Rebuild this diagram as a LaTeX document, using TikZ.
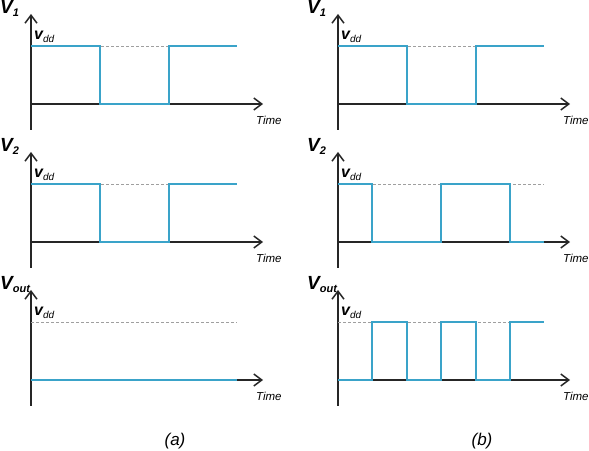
\documentclass[tikz,border=0pt]{standalone}
\usepackage{fontspec}
\setmainfont{Liberation Sans}
\usepackage{xcolor}
\usetikzlibrary{arrows.meta}
\definecolor{wavecol}{RGB}{58,163,201}
\newcommand{\sigv}[2]{{\fontsize{19}{19}\selectfont\bfseries\itshape #1}\raisebox{-3pt}{\fontsize{11}{11}\selectfont\bfseries\itshape #2}}
\newcommand{\vddlab}{{\fontsize{16}{16}\selectfont\bfseries\itshape v}\raisebox{-3pt}{\fontsize{10}{10}\selectfont\itshape dd}}

\begin{document}
\begin{tikzpicture}[
    x=1pt, y=1pt,
    >={Straight Barb[length=8pt,width=12pt,line width=1.5pt]},
    panel/.style={x=34.4pt, y=58pt},
    axis/.style={->, line width=1.8pt, black!85},
    level/.style={gray!75, line width=0.9pt, dash pattern=on 3pt off 2pt},
    wave/.style={wavecol, line width=2pt, line join=miter},
    ylab/.style={anchor=base west, inner sep=0pt},
    tlab/.style={anchor=base west, inner sep=0pt, font=\fontsize{11.5}{11.5}\selectfont\itshape},
    captext/.style={font=\fontsize{17}{17}\selectfont\itshape}
]
\useasboundingbox (0,0) rectangle (589,450);

% --- axes, Vdd level and labels of the six plots ---
\foreach \col/\xo in {a/31, b/338}{
  \foreach \row/\yo/\sub in {1/346/1, 2/208/2, 3/70/out}{
    \begin{scope}[shift={(\xo,\yo)}, panel]
      \coordinate (o\col\row) at (0,0);
      \draw[axis] (0,-0.448) -- (0,1.552);
      \draw[axis] (0,0) -- (6.745,0);
      \draw[level] (0,1) -- (6,1);
      \node[ylab] (v\col\row) at (-0.9,1.552) {\sigv{V}{\sub}};
      \node[ylab] (vdd\col\row) at (0.087,1.112) {\vddlab};
      \node[tlab] (t\col\row) at (6.54,-0.345) {Time};
    \end{scope}
  }
}

% --- waveforms (a) ---
\begin{scope}[shift={(oa1)}, panel]
  \draw[wave] (0,1) -- (2,1) -- (2,0) -- (4,0) -- (4,1) -- (6,1);
\end{scope}
\begin{scope}[shift={(oa2)}, panel]
  \draw[wave] (0,1) -- (2,1) -- (2,0) -- (4,0) -- (4,1) -- (6,1);
\end{scope}
\begin{scope}[shift={(oa3)}, panel]
  \draw[wave] (0,0) -- (6,0);
\end{scope}

% --- waveforms (b) ---
\begin{scope}[shift={(ob1)}, panel]
  \draw[wave] (0,1) -- (2,1) -- (2,0) -- (4,0) -- (4,1) -- (6,1);
\end{scope}
\begin{scope}[shift={(ob2)}, panel]
  \draw[wave] (0,1) -- (1,1) -- (1,0) -- (3,0) -- (3,1) -- (5,1) -- (5,0) -- (6,0);
\end{scope}
\begin{scope}[shift={(ob3)}, panel]
  \draw[wave] (0,0) -- (1,0) -- (1,1) -- (2,1) -- (2,0) -- (3,0) -- (3,1)
    -- (4,1) -- (4,0) -- (5,0) -- (5,1) -- (6,1);
\end{scope}

% --- captions ---
\node[captext] (capa) at (175,9) {(a)};
\node[captext] (capb) at (482,9) {(b)};
\end{tikzpicture}
\end{document}
